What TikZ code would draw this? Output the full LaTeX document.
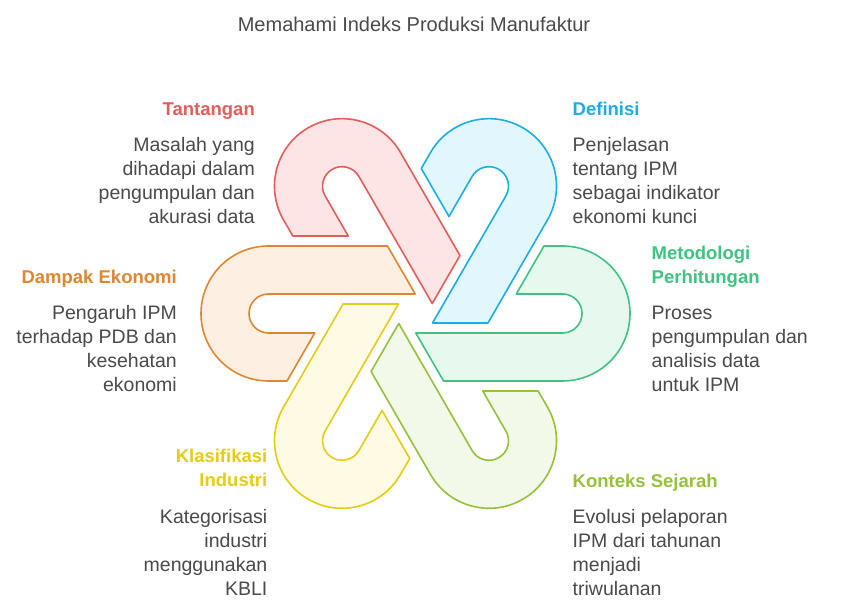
\documentclass[tikz,border=0pt]{standalone}
\usepackage{fontspec}
\setmainfont{Liberation Sans}
\definecolor{redS}{HTML}{E35D5B}\definecolor{redF}{HTML}{FDE5E5}
\definecolor{bluS}{HTML}{1BAEE4}\definecolor{bluF}{HTML}{E2F6FD}
\definecolor{grnS}{HTML}{3EC480}\definecolor{grnF}{HTML}{E7F8EF}
\definecolor{lgrS}{HTML}{95C13C}\definecolor{lgrF}{HTML}{F2F9E8}
\definecolor{yelS}{HTML}{E6CC12}\definecolor{yelF}{HTML}{FEFAE3}
\definecolor{ornS}{HTML}{E0862F}\definecolor{ornF}{HTML}{FDF0E3}
\definecolor{bodyC}{HTML}{4A4A4A}
\newcommand\hookshape[3]{%
  \begin{scope}[shift={(415.5,298.5)}, rotate=#1]
    \draw[shapeline, draw=#2, fill=#3] (-0.29,19.5) -- (-28.0,67.5) -- (-147,67.5)
      arc[start angle=90, end angle=270, radius=67.5] -- (-128.46,-67.5) -- (-100.75,-19.5)
      -- (-147,-19.5) arc[start angle=270, end angle=90, radius=19.5] -- cycle;
  \end{scope}}
\begin{document}
\begin{tikzpicture}[x=1pt,y=1pt,
  shapeline/.style={line width=1.6pt, line join=round},
  body/.style={inner sep=0pt, text=bodyC, font=\fontsize{19.5}{24}\selectfont},
  head/.style={inner sep=0pt, font=\fontsize{18.5}{24}\selectfont\bfseries},
  ttl/.style={inner sep=0pt, text=bodyC, font=\fontsize{20}{24}\selectfont}]
\fill[white] (0,0) rectangle (841,612);
\useasboundingbox (0,0) rectangle (841,612);
% shapes
\hookshape{0}{ornS}{ornF}
\hookshape{-60}{redS}{redF}
\hookshape{-120}{bluS}{bluF}
\hookshape{180}{grnS}{grnF}
\hookshape{120}{lgrS}{lgrF}
\hookshape{60}{yelS}{yelF}
% title
\node[ttl, anchor=base] (title) at (414,580.3) {Memahami Indeks Produksi Manufaktur};
% Tantangan
\node[head, text=redS, anchor=base east] (tanH) at (255,496.3) {Tantangan};
\node[body, anchor=base east] (tan1) at (255,460.3) {Masalah yang};
\node[body, anchor=base east] (tan2) at (255,436.3) {dihadapi dalam};
\node[body, anchor=base east] (tan3) at (255,412.3) {pengumpulan dan};
\node[body, anchor=base east] (tan4) at (255,388.3) {akurasi data};
% Dampak Ekonomi
\node[head, text=ornS, anchor=base east] (damH) at (177,328.7) {Dampak Ekonomi};
\node[body, anchor=base east] (dam1) at (177,292.7) {Pengaruh IPM};
\node[body, anchor=base east] (dam2) at (177,268.7) {terhadap PDB dan};
\node[body, anchor=base east] (dam3) at (177,244.7) {kesehatan};
\node[body, anchor=base east] (dam4) at (177,220.7) {ekonomi};
% Klasifikasi Industri
\node[head, text=yelS, anchor=base east] (klaH1) at (267.5,149.3) {Klasifikasi};
\node[head, text=yelS, anchor=base east] (klaH2) at (267.5,125.3) {Industri};
\node[body, anchor=base east] (kla1) at (267.5,88) {Kategorisasi};
\node[body, anchor=base east] (kla2) at (267.5,64) {industri};
\node[body, anchor=base east] (kla3) at (267.5,40) {menggunakan};
\node[body, anchor=base east] (kla4) at (267.5,16) {KBLI};
% Definisi
\node[head, text=bluS, anchor=base west] (defH) at (572.5,496.5) {Definisi};
\node[body, anchor=base west] (def1) at (572.5,460.5) {Penjelasan};
\node[body, anchor=base west] (def2) at (572.5,436.5) {tentang IPM};
\node[body, anchor=base west] (def3) at (572.5,412.5) {sebagai indikator};
\node[body, anchor=base west] (def4) at (572.5,388.5) {ekonomi kunci};
% Metodologi Perhitungan
\node[head, text=grnS, anchor=base west] (metH1) at (651.5,352) {Metodologi};
\node[head, text=grnS, anchor=base west] (metH2) at (651.5,328) {Perhitungan};
\node[body, anchor=base west] (met1) at (651.5,292.7) {Proses};
\node[body, anchor=base west] (met2) at (651.5,268.7) {pengumpulan dan};
\node[body, anchor=base west] (met3) at (651.5,244.7) {analisis data};
\node[body, anchor=base west] (met4) at (651.5,220.7) {untuk IPM};
% Konteks Sejarah
\node[head, text=lgrS, anchor=base west] (konH) at (572.5,124.7) {Konteks Sejarah};
\node[body, anchor=base west] (kon1) at (572.5,88.7) {Evolusi pelaporan};
\node[body, anchor=base west] (kon2) at (572.5,64.7) {IPM dari tahunan};
\node[body, anchor=base west] (kon3) at (572.5,40.7) {menjadi};
\node[body, anchor=base west] (kon4) at (572.5,16.7) {triwulanan};
\end{tikzpicture}
\end{document}
